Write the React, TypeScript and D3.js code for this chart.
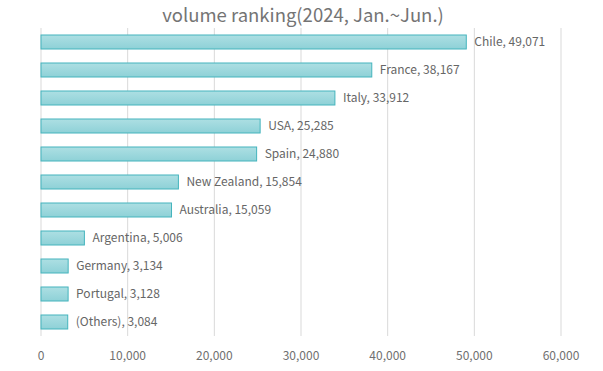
import * as d3 from 'd3'
import React, { useRef, useEffect } from 'react'

// volume ranking, Jan~Jun 2024
const countries = ['Chile', 'France', 'Italy', 'USA', 'Spain', 'New Zealand', 'Australia', 'Argentina', 'Germany', 'Portugal', '(Others)']
const volumes = [49071, 38167, 33912, 25285, 24880, 15854, 15059, 5006, 3134, 3128, 3084]
const xTicks = [0, 10000, 20000, 30000, 40000, 50000, 60000]
const title = 'volume ranking(2024, Jan.~Jun.)'

export default function App() {
    const svgRef = useRef<SVGSVGElement>(null)

    useEffect(() => {
        const w = 603
        const h = 371
        const left = 41, right = 561, top = 28, bottom = 336
        const font = '"Noto Sans CJK KR", "Noto Sans", sans-serif'

        const svg = d3.select(svgRef.current)
        svg.selectAll('*').remove()
        svg.attr('width', w).attr('height', h)

        const defs = svg.append('defs')
        const grad = defs.append('linearGradient').attr('id', 'barGrad')
            .attr('x1', 0).attr('y1', 0).attr('x2', 0).attr('y2', 1)
        grad.append('stop').attr('offset', '0%').attr('stop-color', '#addfe3')
        grad.append('stop').attr('offset', '100%').attr('stop-color', '#8ed1d7')

        const data = countries.map((c, i) => ({ name: c, value: volumes[i] }))

        const x = d3.scaleLinear().domain([0, 60000]).range([left, right])
        // step of 28px, bar 14px, centred in each step
        const y = d3.scaleBand().domain(countries).range([top, bottom])
            .paddingInner(0.5).paddingOuter(0.25)

        // gridlines
        svg.selectAll('.grid')
            .data(xTicks)
            .join('line')
            .attr('x1', d => x(d)).attr('x2', d => x(d))
            .attr('y1', top).attr('y2', bottom)
            .attr('stroke', '#d9d9d9')
            .attr('stroke-width', 1)

        // tick labels
        svg.selectAll('.tick')
            .data(xTicks)
            .join('text')
            .attr('x', d => x(d))
            .attr('y', 356)
            .attr('dy', '0.35em')
            .attr('text-anchor', 'middle')
            .style('font-family', font)
            .style('font-size', '12px')
            .attr('fill', '#707070')
            .text(d => d3.format(',')(d))

        // bars
        svg.selectAll('.bar')
            .data(data)
            .join('rect')
            .attr('x', x(0))
            .attr('y', d => y(d.name)!)
            .attr('width', d => x(d.value) - x(0))
            .attr('height', y.bandwidth())
            .attr('fill', 'url(#barGrad)')
            .attr('stroke', '#44b4bd')
            .attr('stroke-width', 1)

        // value labels
        svg.selectAll('.lbl')
            .data(data)
            .join('text')
            .attr('x', d => x(d.value) + 8)
            .attr('y', d => y(d.name)! + y.bandwidth() / 2)
            .attr('dy', '0.35em')
            .style('font-family', font)
            .style('font-size', '12px')
            .attr('fill', '#666')
            .text(d => `${d.name}, ${d3.format(',')(d.value)}`)

        svg.append('text')
            .attr('x', 303)
            .attr('y', 16)
            .attr('dy', '0.35em')
            .attr('text-anchor', 'middle')
            .style('font-family', font)
            .style('font-size', '18.5px')
            .attr('fill', '#747474')
            .text(title)
    }, [])

    return (
        <svg ref={svgRef} style={{ position: 'absolute', left: 0, top: 0 }}></svg>
    )
}
